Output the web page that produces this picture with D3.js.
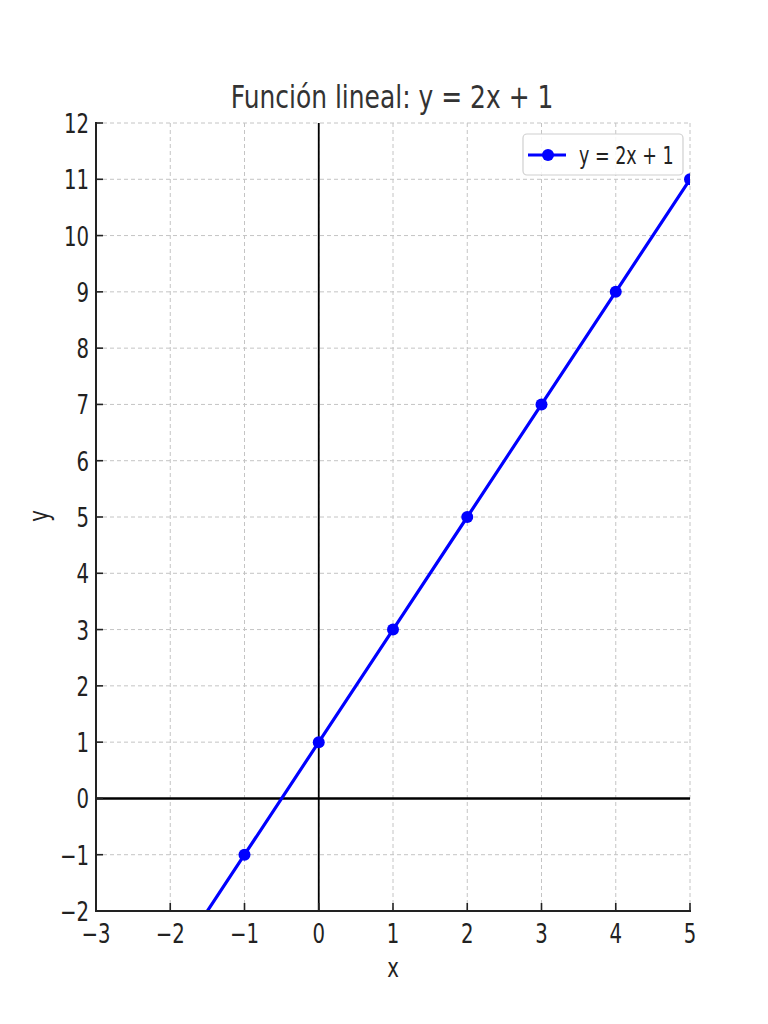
<!DOCTYPE html>
<html><head><meta charset="utf-8">
<script src="https://cdn.jsdelivr.net/npm/d3@7"></script>
<style>body{margin:0;background:#fff}svg{display:block}</style>
</head><body>
<svg id="c" width="768" height="1024"></svg>
<script>
const xs = [-3,-2,-1,0,1,2,3,4,5];
const ys = [-5,-3,-1,1,3,5,7,9,11];
const xTicks = [-3,-2,-1,0,1,2,3,4,5];
const yTicks = [-2,-1,0,1,2,3,4,5,6,7,8,9,10,11,12];
const title = "Función lineal: y = 2x + 1";
const legendLabel = "y = 2x + 1";

const svg = d3.select("#c");
const L=96,R=690,T=123,B=911;
const x = d3.scaleLinear().domain([-3,5]).range([L,R]);
const y = d3.scaleLinear().domain([-2,12]).range([B,T]);
const SX = 0.73;
const fmt = v => (v<0? "\u2212"+Math.abs(v) : String(v));
const font = "DejaVu Sans, sans-serif";

function txt(g, px, py, s, size, anchor, color, rot, sx){
  const t = g.append("text").attr("transform",`translate(${px},${py})`+(rot?` rotate(${rot})`:"")+` scale(${sx||SX},1)`)
   .attr("text-anchor",anchor).attr("font-family",font).attr("font-size",size).attr("fill",color).text(s);
  return t;
}

// grid
const grid = svg.append("g");
grid.selectAll("line.gx").data(xTicks).join("line").attr("x1",d=>x(d)).attr("x2",d=>x(d)).attr("y1",T).attr("y2",B)
  .attr("stroke","#c4c4c4").attr("stroke-width",1).attr("stroke-dasharray","4,3");
grid.selectAll("line.gy").data(yTicks).join("line").attr("y1",d=>y(d)).attr("y2",d=>y(d)).attr("x1",L).attr("x2",R)
  .attr("stroke","#c4c4c4").attr("stroke-width",1).attr("stroke-dasharray","4,3");

// zero lines
svg.append("line").attr("x1",L).attr("x2",R).attr("y1",y(0)).attr("y2",y(0)).attr("stroke","#000").attr("stroke-width",2.4);
svg.append("line").attr("x1",x(0)).attr("x2",x(0)).attr("y1",T).attr("y2",B).attr("stroke","#000").attr("stroke-width",1.8);

// data
svg.append("clipPath").attr("id","clip").append("rect").attr("x",L).attr("y",T).attr("width",R-L).attr("height",B-T);
const data = xs.map((v,i)=>[v,ys[i]]);
const dg = svg.append("g").attr("clip-path","url(#clip)");
dg.append("path").datum(data).attr("d",d3.line().x(d=>x(d[0])).y(d=>y(d[1])))
  .attr("fill","none").attr("stroke","#0000ff").attr("stroke-width",3.2);
dg.selectAll("circle").data(data).join("circle").attr("cx",d=>x(d[0])).attr("cy",d=>y(d[1])).attr("r",6).attr("fill","#0000ff");

// spines
svg.append("line").attr("x1",L).attr("x2",L).attr("y1",T-1).attr("y2",B+1).attr("stroke","#222").attr("stroke-width",2);
svg.append("line").attr("x1",L-1).attr("x2",R+1).attr("y1",B).attr("y2",B).attr("stroke","#222").attr("stroke-width",2);

// ticks (inward)
const tg = svg.append("g");
tg.selectAll("line.tx").data(xTicks).join("line").attr("x1",d=>x(d)).attr("x2",d=>x(d)).attr("y1",B).attr("y2",B-8).attr("stroke","#222").attr("stroke-width",1.6);
tg.selectAll("line.ty").data(yTicks).join("line").attr("y1",d=>y(d)).attr("y2",d=>y(d)).attr("x1",L).attr("x2",L+7).attr("stroke","#222").attr("stroke-width",1.6);
xTicks.forEach(v=>txt(tg, x(v), 943, fmt(v), 27, "middle", "#222"));
yTicks.forEach(v=>txt(tg, 89, y(v)+10, fmt(v), 27, "end", "#222"));

// labels
txt(svg, 393, 977, "x", 27, "middle", "#222");
txt(svg, 48, 516, "y", 27, "middle", "#222", -90);
txt(svg, 392, 108, title, 32, "middle", "#333", 0, 0.78);

// legend
const lg = svg.append("g");
lg.append("rect").attr("x",523).attr("y",134).attr("width",160).attr("height",41).attr("rx",4)
  .attr("fill","#fff").attr("fill-opacity",0.85).attr("stroke","#d0d0d0").attr("stroke-width",1.2);
lg.append("line").attr("x1",528).attr("x2",566).attr("y1",155).attr("y2",155).attr("stroke","#0000ff").attr("stroke-width",3.2);
lg.append("circle").attr("cx",548).attr("cy",155).attr("r",6).attr("fill","#0000ff");
txt(lg, 579, 164, legendLabel, 24, "start", "#222");
</script>
</body></html>
